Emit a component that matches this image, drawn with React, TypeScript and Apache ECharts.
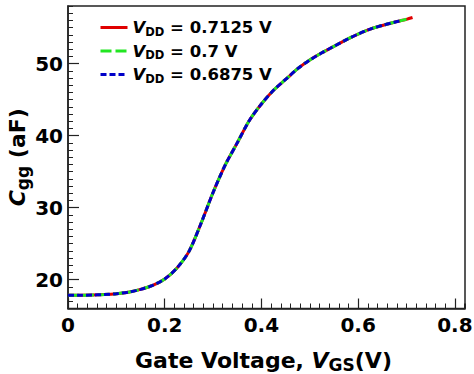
import React, { useEffect, useRef } from "react";
import * as echarts from "echarts";

// Gate voltage samples (V)
const vgs = [
  0, 0.025, 0.05, 0.075, 0.1, 0.125, 0.15, 0.175, 0.2, 0.225, 0.25, 0.275, 0.3,
  0.325, 0.35, 0.375, 0.4, 0.425, 0.45, 0.475, 0.5, 0.525, 0.55, 0.575, 0.6,
  0.625, 0.65, 0.675, 0.6875, 0.7, 0.7125,
];

// Cgg (aF) for each VDD
const cggVdd07125 = [
  17.85, 17.85, 17.87, 17.93, 18.05, 18.27, 18.65, 19.2, 20.1, 21.6, 23.9,
  27.8, 32.1, 35.9, 39.0, 42.1, 44.4, 46.3, 47.8, 49.3, 50.5, 51.5, 52.4, 53.3,
  54.1, 54.8, 55.3, 55.75, 55.95, 56.15, 56.4,
];
const cggVdd07 = [
  17.85, 17.85, 17.87, 17.93, 18.05, 18.27, 18.65, 19.2, 20.1, 21.6, 23.9,
  27.8, 32.1, 35.9, 39.0, 42.1, 44.4, 46.3, 47.8, 49.3, 50.5, 51.5, 52.4, 53.3,
  54.1, 54.8, 55.3, 55.75, 55.95, 56.15,
];
const cggVdd06875 = [
  17.85, 17.85, 17.87, 17.93, 18.05, 18.27, 18.65, 19.2, 20.1, 21.6, 23.9,
  27.8, 32.1, 35.9, 39.0, 42.1, 44.4, 46.3, 47.8, 49.3, 50.5, 51.5, 52.4, 53.3,
  54.1, 54.8, 55.3, 55.75, 55.95,
];

const seriesNames = ["0.7125 V", "0.7 V", "0.6875 V"];
const seriesColors = ["#e00000", "#22e622", "#0000c8"];

const FONT = "DejaVu Sans";

export default function App() {
  const ref = useRef<HTMLDivElement>(null);

  useEffect(() => {
    const chart = echarts.init(ref.current!, null, { renderer: "svg" });
    const pair = (ys: number[]) => ys.map((y, i) => [vgs[i], y]);

    const legendRich = {
      v: { fontFamily: FONT, fontWeight: "bold", fontStyle: "italic", fontSize: 16.5, lineHeight: 20, verticalAlign: "middle", color: "#000" },
      s: { fontFamily: FONT, fontWeight: "bold", fontSize: 11.5, lineHeight: 11, verticalAlign: "bottom", color: "#000" },
      t: { fontFamily: FONT, fontWeight: "bold", fontSize: 16.5, lineHeight: 20, verticalAlign: "middle", color: "#000" },
    };
    const nameRich = {
      t: { fontFamily: FONT, fontWeight: "bold", fontSize: 22, lineHeight: 27, verticalAlign: "middle", color: "#000" },
      i: { fontFamily: FONT, fontWeight: "bold", fontStyle: "italic", fontSize: 22, lineHeight: 27, verticalAlign: "middle", color: "#000" },
      s: { fontFamily: FONT, fontWeight: "bold", fontSize: 17, lineHeight: 16, verticalAlign: "bottom", color: "#000" },
    };

    const labelStyle = {
      fontFamily: FONT,
      fontWeight: "bold" as const,
      fontSize: 20,
      color: "#000",
    };

    const option: any = {
      animation: false,
      grid: {
        left: 68,
        right: 9,
        top: 6,
        bottom: 65.5,
        outerBoundsMode: "none",
        containLabel: false,
        show: true,
        borderColor: "#222",
        borderWidth: 1.5,
        backgroundColor: "#fff",
      },
      legend: {
        orient: "vertical",
        left: 99,
        top: 19,
        padding: 0,
        itemWidth: 27,
        itemHeight: 12,
        itemGap: 5,
        selectedMode: false,
        data: seriesNames,
        itemStyle: { opacity: 0 },
        lineStyle: { width: 3 },
        formatter: (name: string) => `{v|V}{s|DD}{t| = ${name}}`,
        textStyle: { rich: legendRich },
      },
      xAxis: [
        {
          type: "value",
          min: 0,
          max: 0.821,
          interval: 0.2,
          name: "{t|Gate Voltage, }{i|V}{s|GS}{t|(V)}",
          nameLocation: "middle",
          nameGap: 38,
          nameTextStyle: { rich: nameRich, padding: [0, 6, 0, 0] },
          axisLine: { show: true, lineStyle: { color: "#222", width: 1.5 } },
          axisTick: { show: true, inside: true, length: 10, lineStyle: { color: "#222", width: 1.2 } },
          axisLabel: {
            ...labelStyle,
            margin: 6,
            showMaxLabel: false,
            formatter: (v: number) => (v === 0 ? "0" : Math.abs(v - Math.round(v * 5) / 5) < 1e-6 ? v.toFixed(1) : ""),
          },
          splitLine: { show: false },
        },
        {
          type: "value",
          min: 0,
          max: 0.821,
          interval: 0.02,
          position: "bottom",
          axisLine: { show: false },
          axisTick: { show: true, inside: true, length: 5, lineStyle: { color: "#222", width: 1 } },
          axisLabel: { show: false },
          splitLine: { show: false },
        },
      ],
      yAxis: [
        {
          type: "value",
          min: 16,
          max: 58,
          name: "{i|C}{s|gg}{t| (aF)}",
          nameLocation: "middle",
          nameGap: 37,
          nameMoveOverlap: false,
          nameRotate: 90,
          nameTextStyle: { rich: nameRich },
          axisLine: { show: true, lineStyle: { color: "#222", width: 1.5 } },
          axisTick: { show: true, inside: true, length: 11, lineStyle: { color: "#222", width: 1.2 } },
          axisLabel: {
            ...labelStyle,
            margin: 5,
            showMinLabel: false,
            showMaxLabel: false,
            formatter: (v: number) => (v % 10 === 0 ? String(v) : ""),
          },
          splitLine: { show: false },
        },
        {
          type: "value",
          min: 16,
          max: 58,
          interval: 1,
          position: "left",
          axisLine: { show: false },
          axisTick: { show: true, inside: true, length: 5, lineStyle: { color: "#222", width: 1 } },
          axisLabel: { show: false },
          splitLine: { show: false },
        },
      ],
      series: [
        {
          name: seriesNames[0],
          type: "line",
          data: pair(cggVdd07125),
          symbol: "none",
          smooth: 0.3,
          color: seriesColors[0],
          lineStyle: { color: seriesColors[0], width: 3, type: "solid" },
        },
        {
          name: seriesNames[1],
          type: "line",
          data: pair(cggVdd07),
          symbol: "none",
          smooth: 0.3,
          color: seriesColors[1],
          lineStyle: { color: seriesColors[1], width: 3, type: [11, 4] },
        },
        {
          name: seriesNames[2],
          type: "line",
          data: pair(cggVdd06875),
          symbol: "none",
          smooth: 0.3,
          color: seriesColors[2],
          lineStyle: { color: seriesColors[2], width: 3, type: [6, 3] },
        },
      ],
    };

    chart.setOption(option);
    return () => chart.dispose();
  }, []);

  return (
    <div
      ref={ref}
      style={{ position: "absolute", left: 0, top: 0, width: 474, height: 374 }}
    />
  );
}
